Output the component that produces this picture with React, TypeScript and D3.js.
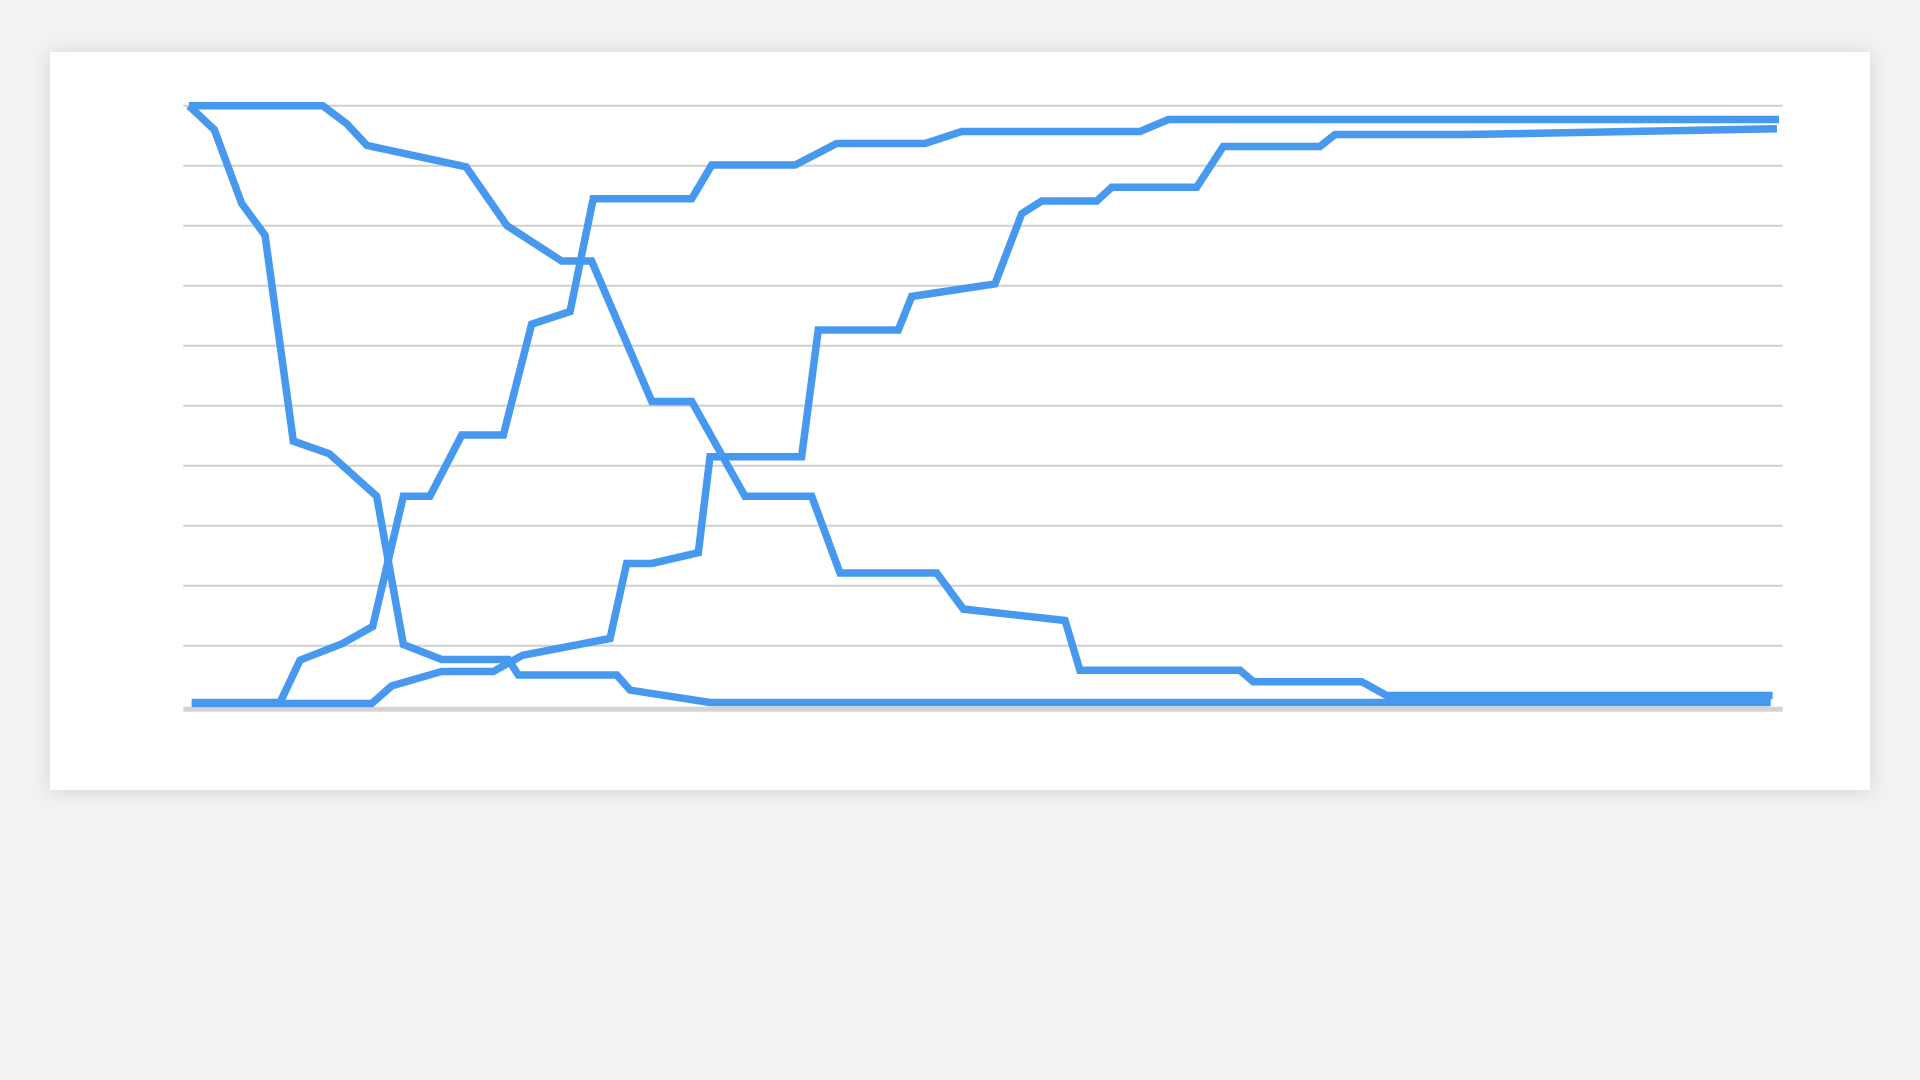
import React from "react";
import * as d3 from "d3";

// x: position along the (unlabelled) horizontal axis, 0–100; y: value, 0–100
const seriesA: [number, number][] = [
  [0.35, 100], [8.72, 100], [10.22, 97.0], [11.47, 93.4], [17.68, 89.8], [20.24, 80.0],
  [23.66, 74.1], [25.53, 74.1], [29.29, 50.7], [31.79, 50.7], [35.12, 34.9], [39.29, 34.9],
  [41.06, 22.1], [47.11, 22.1], [48.77, 16.1], [55.13, 14.2], [56.06, 5.9], [66.07, 5.9],
  [66.9, 4.0], [73.68, 4.0], [75.24, 1.7], [99.37, 1.7],
];
const seriesB: [number, number][] = [
  [0.35, 100], [1.94, 96.0], [3.65, 83.7], [5.11, 78.4], [6.88, 44.1], [9.13, 42.0],
  [12.09, 34.9], [13.76, 10.2], [16.16, 7.7], [20.32, 7.7], [20.95, 5.1], [27.1, 5.1],
  [27.93, 2.6], [32.93, 0.55], [99.25, 0.55],
];
const seriesC: [number, number][] = [
  [0.53, 0.55], [6.05, 0.55], [7.3, 7.6], [9.9, 10.3], [11.84, 13.2], [13.76, 34.9],
  [15.42, 34.9], [17.41, 45.1], [20.01, 45.1], [21.78, 63.6], [24.18, 65.7], [25.63, 84.5],
  [31.79, 84.5], [33.04, 90.1], [38.25, 90.1], [40.85, 93.7], [46.37, 93.7], [48.67, 95.7],
  [59.82, 95.7], [61.59, 97.7], [99.77, 97.7],
];
const seriesD: [number, number][] = [
  [0.53, 0.35], [11.78, 0.35], [13.03, 3.3], [16.16, 5.7], [19.38, 5.7], [21.21, 8.4],
  [26.68, 11.2], [27.72, 23.7], [29.29, 23.7], [32.2, 25.5], [32.93, 41.5], [38.66, 41.5],
  [39.7, 62.6], [44.7, 62.6], [45.54, 68.2], [50.75, 70.3], [52.42, 82.0], [53.67, 84.1],
  [57.11, 84.1], [58.05, 86.4], [63.36, 86.4], [65.02, 93.2], [71.07, 93.2], [72.01, 95.2],
  [80.13, 95.2], [99.64, 96.15],
];
const allSeries = [seriesA, seriesB, seriesC, seriesD];
const gridValues = [10, 20, 30, 40, 50, 60, 70, 80, 90, 100];

const W = 1920;
const H = 1080;
const card = { x: 50, y: 52, w: 1820, h: 738 };
const plot = { left: 183.3, right: 1782.7, top: 105.7, bottom: 705.7 };
const LINE = "#4699ef";

export default function App() {
  const x = d3.scaleLinear().domain([0, 100]).range([plot.left, plot.right]);
  const y = d3.scaleLinear().domain([0, 100]).range([plot.bottom, plot.top]);
  const line = d3
    .line<[number, number]>()
    .x((d) => x(d[0]))
    .y((d) => y(d[1]));

  return (
    <div style={{ position: "absolute", left: 0, top: 0, width: W, height: H }}>
      <svg width={W} height={H} style={{ display: "block" }}>
        <defs>
          <filter id="shadow" x="-5%" y="-10%" width="110%" height="120%">
            <feDropShadow dx="0" dy="1" stdDeviation="9" floodColor="#000" floodOpacity="0.13" />
          </filter>
        </defs>
        <rect x={0} y={0} width={W} height={H} fill="#f2f2f2" />
        <rect x={card.x} y={card.y} width={card.w} height={card.h} fill="#ffffff" filter="url(#shadow)" />
        {gridValues.map((v) => (
          <line
            key={v}
            x1={plot.left}
            x2={plot.right}
            y1={y(v)}
            y2={y(v)}
            stroke="#d0d0d0"
            strokeWidth={2}
          />
        ))}
        <rect
          x={plot.left}
          y={y(0) + 1}
          width={plot.right - plot.left}
          height={5}
          fill="#d3d3d3"
        />
        {allSeries.map((s, i) => (
          <path
            key={i}
            d={line(s) ?? ""}
            fill="none"
            stroke={LINE}
            strokeWidth={7.5}
            strokeLinejoin="miter"
            strokeLinecap="butt"
          />
        ))}
      </svg>
    </div>
  );
}
